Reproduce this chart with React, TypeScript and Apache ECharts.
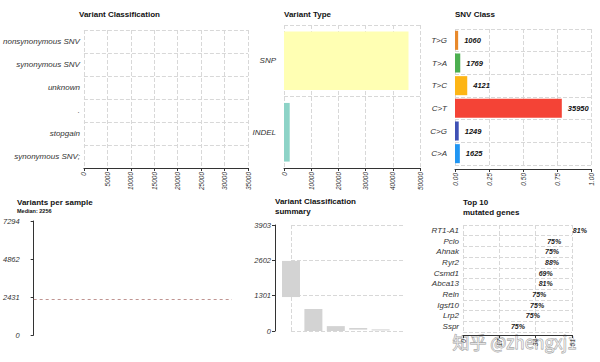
import React, { useEffect, useRef } from "react";
import * as echarts from "echarts";

// ---- data ----
const vcCategories = ["nonsynonymous SNV", "synonymous SNV", "unknown", ".", "stopgain", "synonymous SNV;"];
const vcTicks = [0, 35000, 5000]; // min, max, interval

const vtCategories = ["SNP", "INDEL"];
const vtValues = [45774, 2100];
const vtColors = ["#FFFFB3", "#8DD3C7"];

const snvCategories = ["T>G", "T>A", "T>C", "C>T", "C>G", "C>A"];
const snvCounts = [1060, 1769, 4121, 35950, 1249, 1625];
const snvColors = ["#E8892B", "#4CAF50", "#FDB515", "#F44336", "#3F51B5", "#2196F3"];

const perSampleMax = 7294;
const perSampleMedian = 2256;

const vcsLow = [1250, 0, 0, 50, 20, 0];
const vcsHigh = [2580, 810, 180, 110, 60, 0];
const vcsMax = 3903;

const genes = ["RT1-A1", "Pclo", "Ahnak", "Ryr2", "Csmd1", "Abca13", "Reln", "Igsf10", "Lrp2", "Sspr"];
const geneCounts = [50, 38, 37, 37, 34, 34, 31, 30, 28, 21];
const genePct = ["81%", "75%", "75%", "88%", "69%", "81%", "75%", "75%", "75%", "75%"];
const geneAxis = [0, 51, 17];

const FONT = "Liberation Sans";
const GRID_COLOR = "#D8D8D8";
const AX = "#333";

export default function App() {
  const ref = useRef<HTMLDivElement>(null);
  useEffect(() => {
    if (!ref.current) return;
    const chart = echarts.init(ref.current, null, { renderer: "svg" });
    const dashed = { show: true, lineStyle: { type: "dashed", color: GRID_COLOR, width: 1 } };
    const italicLabel = { fontFamily: FONT, fontStyle: "italic", color: AX, fontSize: 8 };
    const rotLabel = {
      rotate: 90, fontSize: 6.5, fontFamily: FONT, fontStyle: "italic", color: AX, margin: 4,
      formatter: (v: number) => String(v),
    };
    const axisLine = { show: true, lineStyle: { color: AX, width: 1 } };
    const axisTick = { show: true, length: 3, lineStyle: { color: AX } };
    const snvTotal = snvCounts.reduce((a, b) => a + b, 0);
    const titleStyle = { fontFamily: FONT, fontSize: 8, fontWeight: "bold", color: "#111", lineHeight: 10 };

    const option: any = {
      animation: false,
      backgroundColor: "#fff",
      textStyle: { fontFamily: FONT },
      title: [
        { text: "Variant Classification", left: 79, top: 9, padding: 0, textStyle: titleStyle },
        { text: "Variant Type", left: 284, top: 9, padding: 0, textStyle: titleStyle },
        { text: "SNV Class", left: 455, top: 9, padding: 0, textStyle: titleStyle },
        {
          text: "Variants per sample", subtext: "Median: 2256", left: 17, top: 197, padding: 0, itemGap: 1,
          textStyle: titleStyle, subtextStyle: { fontFamily: FONT, fontSize: 5.5, fontWeight: "bold", color: "#111" },
        },
        { text: "Variant Classification\nsummary", left: 275, top: 196, padding: 0, textStyle: titleStyle },
        { text: "Top 10\nmutated genes", left: 463, top: 197, padding: 0, textStyle: titleStyle },
      ],
      grid: [
        { left: 79, top: 30, width: 169, height: 138 },
        { left: 284, top: 25, width: 136, height: 143 },
        { left: 455, top: 29, width: 136, height: 136 },
        { left: 33, top: 221, width: 199, height: 114 },
        { left: 291, top: 225, width: 112, height: 106 },
        { left: 463, top: 225, width: 109, height: 107 },
      ],
      xAxis: [
        { gridIndex: 0, type: "value", min: vcTicks[0], max: vcTicks[1], interval: vcTicks[2], axisLine, axisTick, axisLabel: rotLabel, splitLine: dashed },
        { gridIndex: 1, type: "value", min: 0, max: 50000, interval: 10000, axisLine, axisTick, axisLabel: rotLabel, splitLine: dashed },
        {
          gridIndex: 2, type: "value", min: 0, max: 1, interval: 0.25, offset: 4, axisLine, axisTick,
          axisLabel: { ...rotLabel, formatter: (v: number) => v.toFixed(2) }, splitLine: dashed,
        },
        { gridIndex: 3, type: "value", min: 0, max: 1, show: false },
        {
          gridIndex: 4, type: "category", data: vcCategories, boundaryGap: false,
          axisLine: { show: false }, axisTick: { show: false }, axisLabel: { show: false }, splitLine: dashed,
        },
        {
          gridIndex: 5, type: "value", min: geneAxis[0], max: geneAxis[1], interval: geneAxis[2], offset: 3,
          axisLine, axisTick, axisLabel: rotLabel, splitLine: dashed,
        },
      ],
      yAxis: [
        { gridIndex: 0, type: "category", data: vcCategories, inverse: true, axisLine: { show: false }, axisTick: { show: false }, axisLabel: { ...italicLabel, margin: 4 }, splitLine: dashed },
        { gridIndex: 1, type: "category", data: vtCategories, inverse: true, axisLine: { show: false }, axisTick: { show: false }, axisLabel: { ...italicLabel, margin: 8 }, splitLine: dashed },
        { gridIndex: 2, type: "category", data: snvCategories, inverse: true, axisLine: { show: false }, axisTick: { show: false }, axisLabel: { ...italicLabel, margin: 8 }, splitLine: dashed },
        {
          gridIndex: 3, type: "value", min: 0, max: perSampleMax, interval: perSampleMax / 3, offset: 12,
          axisLine, axisTick, splitLine: { show: false },
          axisLabel: { ...italicLabel, fontSize: 7.5, margin: 2, formatter: (v: number) => String(Math.floor(v + 1e-6)) },
        },
        {
          gridIndex: 4, type: "value", min: 0, max: vcsMax, interval: vcsMax / 3, offset: 16,
          axisLine, axisTick, splitLine: dashed,
          axisLabel: { ...italicLabel, fontSize: 7.5, margin: 4, formatter: (v: number) => String(Math.round(v)) },
        },
        { gridIndex: 5, type: "category", data: genes, inverse: true, axisLine: { show: false }, axisTick: { show: false }, axisLabel: { ...italicLabel, margin: 4 }, splitLine: dashed },
      ],
      series: [
        {
          type: "bar", xAxisIndex: 1, yAxisIndex: 1, barCategoryGap: "18%",
          data: vtValues.map((v, i) => ({ value: v, itemStyle: { color: vtColors[i] } })),
        },
        {
          type: "bar", xAxisIndex: 2, yAxisIndex: 2, barCategoryGap: "16%",
          data: snvCounts.map((c, i) => ({ value: c / snvTotal, itemStyle: { color: snvColors[i] } })),
          label: {
            show: true, position: "right", distance: 6, fontFamily: FONT, fontSize: 7.5, fontWeight: "bold", fontStyle: "italic", color: "#111",
            formatter: (p: any) => String(snvCounts[p.dataIndex]),
          },
        },
        {
          type: "line", xAxisIndex: 3, yAxisIndex: 3, data: [], symbol: "none",
          markLine: {
            silent: true, symbol: ["none", "none"], label: { show: false },
            lineStyle: { type: [3, 3], color: "#B07A76", width: 0.8 },
            data: [{ yAxis: perSampleMedian }],
          },
        },
        {
          type: "bar", xAxisIndex: 4, yAxisIndex: 4, stack: "vcs", barWidth: 18, clip: false,
          itemStyle: { color: "transparent" }, data: vcsLow,
        },
        {
          type: "bar", xAxisIndex: 4, yAxisIndex: 4, stack: "vcs", barWidth: 18, clip: false,
          itemStyle: { color: "#D3D3D3" }, data: vcsHigh.map((h, i) => h - vcsLow[i]),
        },
        {
          type: "bar", xAxisIndex: 5, yAxisIndex: 5, barCategoryGap: "20%",
          itemStyle: { color: "transparent" }, data: geneCounts,
          label: {
            show: true, position: "right", distance: 3, fontFamily: FONT, fontSize: 7, fontWeight: "bold", fontStyle: "italic", color: "#222",
            formatter: (p: any) => genePct[p.dataIndex],
          },
        },
      ],
      graphic: [
        {
          type: "text", left: 452, top: 333, silent: true,
          style: {
            text: "知乎 @zhengxj1", fontFamily: "Noto Sans CJK SC", fontSize: 17,
            fill: "rgba(255,255,255,0.55)", stroke: "#9a9a9a", lineWidth: 0.8,
          },
        },
      ],
    };
    chart.setOption(option);
    return () => chart.dispose();
  }, []);
  return <div ref={ref} style={{ position: "absolute", left: 0, top: 0, width: 600, height: 362 }} />;
}
